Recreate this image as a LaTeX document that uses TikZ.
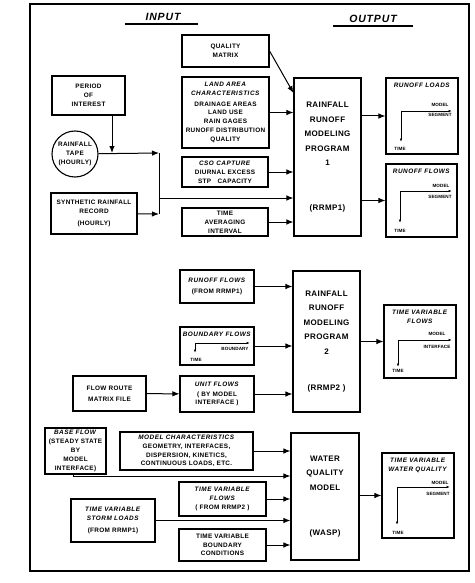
\documentclass[tikz,border=0pt]{standalone}
\usepackage{fontspec}
\setmainfont{Liberation Sans}[LetterSpace=5,BoldItalicFeatures={LetterSpace=8}]
\usetikzlibrary{arrows.meta}
\begin{document}
\begin{tikzpicture}
[x=1pt,y=-1pt,>={Latex[length=7pt,width=5.5pt]},
 every node/.style=
   {rectangle,draw=black,line width=1.1pt,align=center,inner sep=1pt,
    font=\bfseries\fontsize{6.4}{8.8}\selectfont},
 prog/.style={font=\bfseries\fontsize{8}{14.5}\selectfont},
 head/.style={draw=none,font=\bfseries\itshape\fontsize{10.5}{11}\selectfont\addfontfeatures{LetterSpace=16}},
 tiny/.style={draw=none,inner sep=0pt,font=\bfseries\fontsize{4.6}{5}\selectfont\addfontfeatures{LetterSpace=2}},
 title/.style={draw=none,anchor=north,inner sep=0pt,yshift=-5pt},
 axis/.style={<->,>={Latex[length=3.5pt,width=2.5pt]},line width=0.7pt},
 flow/.style={->,line width=1pt}]

\useasboundingbox (0,0) rectangle (474,583);
\draw [line width=2pt] (30,4) rectangle (469,571);

\node [head] (in) at (163,17) {INPUT};
\draw [line width=1.2pt] (125,24) -- (198,24);
\node [head] (out) at (373,19) {OUTPUT};
\draw [line width=1.2pt] (333,26) -- (413,26);

\begin{scope}
\node [minimum width=87pt,minimum height=32pt] (qmat) at (225.5,51) {QUALITY\\MATRIX};
\node [minimum width=87pt,minimum height=71pt] (land) at (225.5,112.5)
  {\textit{LAND AREA}\\\textit{CHARACTERISTICS}\\[1.5pt]DRAINAGE AREAS\\LAND USE\\RAIN GAGES\\RUNOFF DISTRIBUTION\\QUALITY};
\node [minimum width=86pt,minimum height=30pt] (cso) at (225,172)
  {\textit{CSO CAPTURE}\\DIURNAL EXCESS\\STP\quad CAPACITY};
\node [minimum width=86pt,minimum height=28pt] (tavg) at (225,222) {TIME\\AVERAGING\\INTERVAL};
\node [minimum width=73pt,minimum height=39pt] (period) at (88.5,95.5) {PERIOD\\OF\\INTEREST};
\node [circle,minimum size=46pt,inner sep=0pt] (tape) at (75,154) {RAINFALL\\TAPE\\(HOURLY)};
\node [minimum width=86pt,minimum height=41pt] (synth) at (94,213.5)
  {SYNTHETIC RAINFALL\\RECORD\\[3pt](HOURLY)};
\node [prog,minimum width=67pt,minimum height=158pt] (rrmp1) at (327.5,157)
  {RAINFALL\\RUNOFF\\MODELING\\PROGRAM\\1\\[30pt](RRMP1)};
\node [minimum width=72pt,minimum height=76pt,
  label={[title]north:\textit{RUNOFF LOADS}}] (loads) at (422,116) {};
\node [minimum width=71pt,minimum height=73pt,
  label={[title]north:\textit{RUNOFF FLOWS}}] (flows) at (421.5,200.5) {};
\end{scope}

\coordinate (j0) at (112,153);
\coordinate (j1) at (159,153);
\coordinate (j2) at (159,214);
\coordinate (j3) at (159,198);
\coordinate (q1) at (0,93);
\draw [flow] (period.south -| j0) -- (j0);
\draw [flow] (tape) -- (j1);
\draw [flow] (synth) -- (j2);
\draw [line width=1pt] (j1) -- (j2);
\draw [flow] (j3) -- (j3 -| rrmp1.west);
\draw [flow] (qmat.east) -- (rrmp1.west |- q1);
\draw [flow] (land) -- (land -| rrmp1.west);
\draw [flow] (cso) -- (cso -| rrmp1.west);
\draw [flow] (tavg) -- (tavg -| rrmp1.west);
\draw [flow] (loads -| rrmp1.east) -- (loads.west);
\draw [flow] (flows -| rrmp1.east) -- (flows.west);

\draw [axis] (452,111) -- (401,111) -- (401,142);
\node [tiny] (lm) at (440,105) {MODEL};
\node [tiny] (ls) at (440,115) {SEGMENT};
\node [tiny] (lt) at (400,149) {TIME};
\draw [axis] (452,191) -- (400,191) -- (400,223);
\node [tiny] (fm) at (441,185.5) {MODEL};
\node [tiny] (fs) at (440,197) {SEGMENT};
\node [tiny] (ft) at (400,231) {TIME};

\begin{scope}
\node [minimum width=74pt,minimum height=33pt] (rofl) at (217,286.5)
  {\textit{RUNOFF FLOWS}\\[2pt](FROM RRMP1)};
\node [minimum width=74pt,minimum height=38pt,
  label={[title]north:\textit{BOUNDARY FLOWS}}] (bflow) at (217,346) {};
\node [minimum width=74pt,minimum height=36pt] (uflow) at (217,394)
  {\textit{UNIT FLOWS}\\[1pt]( BY MODEL\\INTERFACE )};
\node [minimum width=73pt,minimum height=35pt] (route) at (109.5,393.5)
  {FLOW ROUTE\\[2pt]MATRIX FILE};
\node [prog,minimum width=67pt,minimum height=141pt] (rrmp2) at (326.5,341.5)
  {RAINFALL\\RUNOFF\\MODELING\\PROGRAM\\2\\[22pt](RRMP2 )};
\node [minimum width=72pt,minimum height=73pt,
  label={[title,align=center]north:\textit{TIME VARIABLE}\\\textit{FLOWS}}] (tvflow) at (420,341.5) {};
\end{scope}

\draw [flow] (rofl) -- (rofl -| rrmp2.west);
\draw [flow] (bflow) -- (bflow -| rrmp2.west);
\draw [flow] (uflow) -- (uflow -| rrmp2.west);
\draw [flow] (route) -- (uflow);
\draw [flow] (tvflow -| rrmp2.east) -- (tvflow.west);

\draw [axis] (250,343) -- (195,343) -- (195,353);
\node [tiny] (bb) at (235,348.5) {BOUNDARY};
\node [tiny] (bt) at (196,360) {TIME};
\draw [axis] (452,340) -- (398,340) -- (398,367);
\node [tiny] (vm) at (437,334) {MODEL};
\node [tiny] (vi) at (437,347) {INTERFACE};
\node [tiny] (vt) at (398,371) {TIME};

\begin{scope}
\node [minimum width=61pt,minimum height=46pt] (base) at (75.5,451)
  {\textit{BASE FLOW}\\(STEADY STATE\\BY\\MODEL\\INTERFACE)};
\node [minimum width=133pt,minimum height=38pt] (mchar) at (186.5,451)
  {\textit{MODEL CHARACTERISTICS}\\GEOMETRY, INTERFACES,\\DISPERSION, KINETICS,\\CONTINUOUS LOADS, ETC.};
\node [minimum width=87pt,minimum height=34pt] (tvf2) at (222.5,499)
  {\textit{TIME VARIABLE}\\\textit{FLOWS}\\( FROM RRMP2 )};
\node [minimum width=84pt,minimum height=43pt] (storm) at (113,520.5)
  {\textit{TIME VARIABLE}\\\textit{STORM LOADS}\\[4pt](FROM RRMP1)};
\node [minimum width=87pt,minimum height=32pt] (tvbc) at (222.5,545)
  {TIME VARIABLE\\BOUNDARY\\CONDITIONS};
\node [prog,minimum width=68pt,minimum height=127pt] (wasp) at (325,496.5)
  {WATER\\QUALITY\\MODEL\\[31pt](WASP)};
\node [minimum width=72pt,minimum height=85pt,
  label={[title,align=center]north:\textit{TIME VARIABLE}\\\textit{WATER QUALITY}}] (tvwq) at (418,495.5) {};
\end{scope}

\coordinate (b1) at (73,476);
\draw [flow] (mchar) -- (mchar -| wasp.west);
\draw [flow] (base.south -| b1) -- (b1) -- (b1 -| wasp.west);
\draw [flow] (tvf2) -- (tvf2 -| wasp.west);
\draw [flow] (storm) -- (storm -| wasp.west);
\draw [flow] (tvbc) -- (tvbc -| wasp.west);
\draw [flow] (tvwq -| wasp.east) -- (tvwq.west);

\draw [axis] (450,487) -- (397,487) -- (397,525);
\node [tiny] (wm) at (440,482.5) {MODEL};
\node [tiny] (ws) at (438,493.5) {SEGMENT};
\node [tiny] (wt) at (398,533) {TIME};
\end{tikzpicture}
\end{document}
